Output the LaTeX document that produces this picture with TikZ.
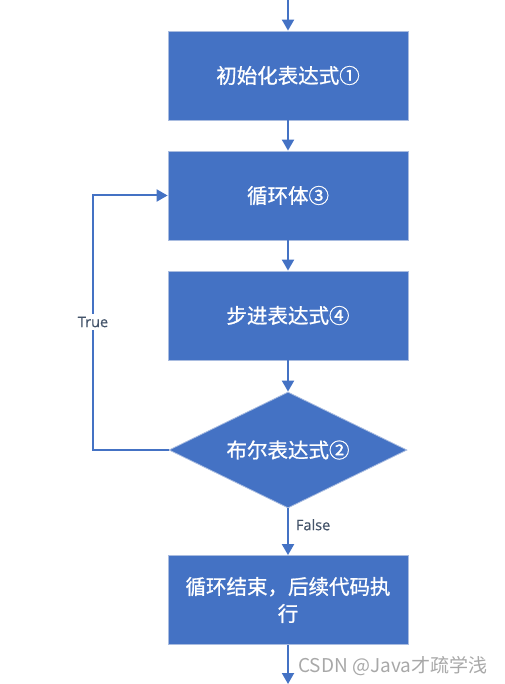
\documentclass[tikz,border=0pt]{standalone}
\usepackage{fontspec}
\setmainfont{Open Sans}
\newfontfamily\cjk[FakeBold=0.9]{Noto Sans CJK SC}
\newfontfamily\cjkwm{Noto Sans CJK SC}
\newfontfamily\lblfont[FakeBold=0.6]{Open Sans}
\usetikzlibrary{shapes.geometric,arrows.meta}
\definecolor{boxblue}{HTML}{4472C4}
\definecolor{boxedge}{HTML}{A9BCE0}
\definecolor{labelc}{HTML}{44546A}
\definecolor{wm}{HTML}{A8A8A8}
\tikzset{
  x=1pt, y=-1pt,
  stepbox/.style={rectangle, fill=boxblue, draw=boxedge, line width=0.8pt,
    minimum width=240pt, minimum height=89pt, inner sep=0pt,
    text=white, font=\cjk\fontsize{20.5}{27}\selectfont, align=center},
  decbox/.style={diamond, fill=boxblue, draw=boxedge, line width=0.8pt,
    minimum width=238pt, minimum height=116pt, inner sep=0pt, aspect=2.05,
    text=white, font=\cjk\fontsize{20.5}{27}\selectfont},
  conn/.style={draw=boxblue, line width=2pt, -{Triangle[width=12pt,length=11pt]}},
  lbl/.style={text=labelc, font=\lblfont\fontsize{14.5}{17}\selectfont, inner sep=1pt},
}
\begin{document}
\begin{tikzpicture}
\useasboundingbox (0,0) rectangle (504,684);
\coordinate (top) at (288,0);
\coordinate (bot) at (288,684);
\node[stepbox] (init) at (288,75.5) {初始化表达式①};
\node[stepbox] (body) at (288,195.5) {循环体③};
\node[stepbox] (step4) at (288,315.5) {步进表达式④};
\node[decbox] (cond) at (288,450) {布尔表达式②};
\node[stepbox] (done) at (288,600) {循环结束，后续代码执\\行};
\coordinate (lb) at (93,450);
\coordinate (lt) at (93,195.5);

\draw[conn] (top) -- (init);
\draw[conn] (init) -- (body);
\draw[conn] (body) -- (step4);
\draw[conn] (step4) -- (cond);
\draw[conn] (cond) -- node[lbl, right, pos=0.35, xshift=6pt] (f) {False} (done);
\draw[conn] (done) -- (bot);
\draw[conn] (cond.west) -- (lb) -- (lt) -- (body.west);
\node[lbl, fill=white, inner sep=3pt] (t) at (93,322) {True};
\node[text=wm, font=\cjkwm\fontsize{19}{22}\selectfont, anchor=west, inner sep=0pt] (wmk) at (298,666) {CSDN @Java才疏学浅};
\end{tikzpicture}
\end{document}
